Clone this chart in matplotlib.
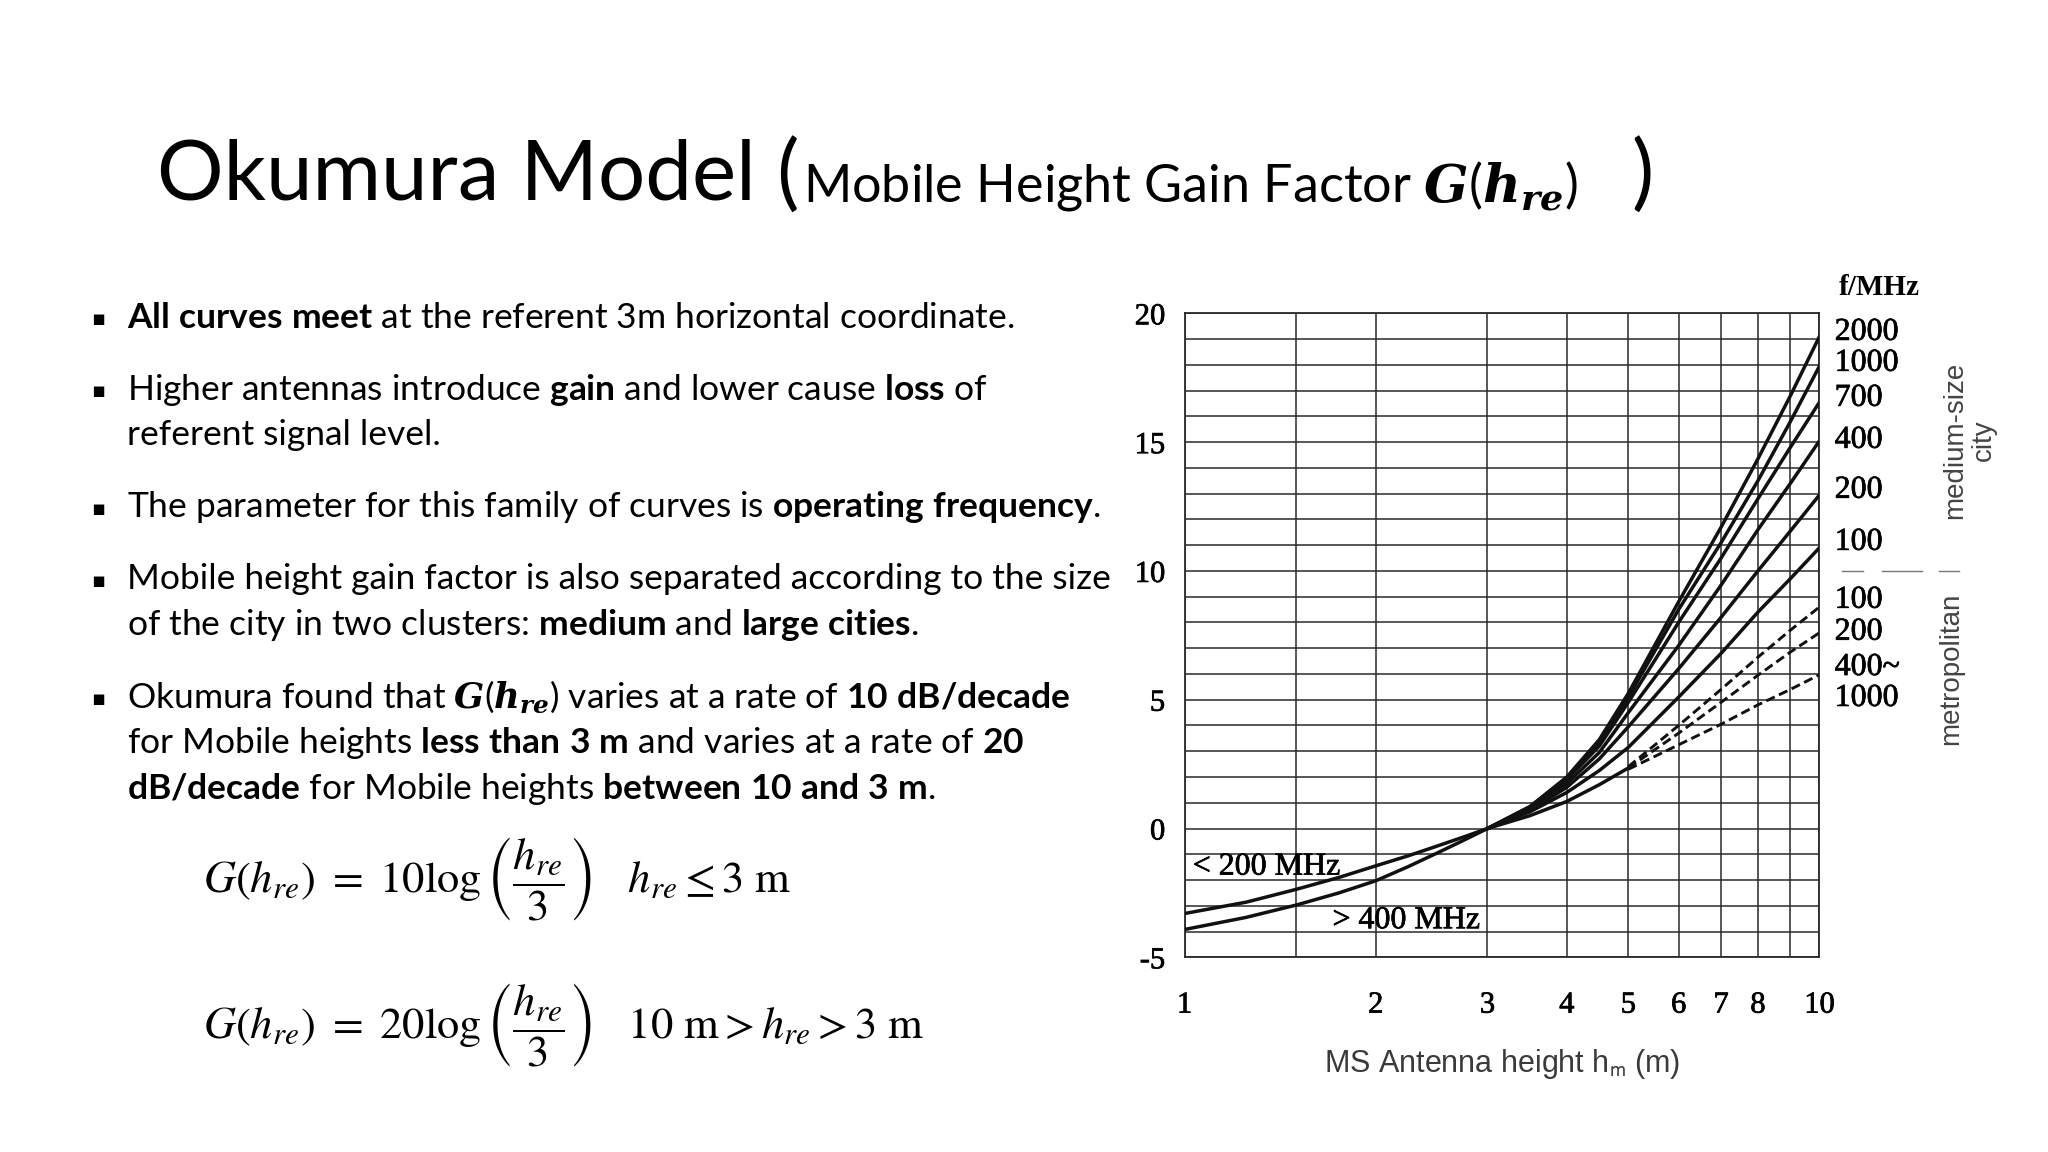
import numpy as np
import matplotlib
matplotlib.use("Agg")
import matplotlib.pyplot as plt
from matplotlib import transforms
import matplotlib.patheffects as pe

plt.rcParams["mathtext.fontset"] = "custom"
plt.rcParams["mathtext.rm"] = "Lato"
plt.rcParams["mathtext.bf"] = "Lato:bold"
plt.rcParams["mathtext.it"] = "Lato:italic"
plt.rcParams["mathtext.bfit"] = "DejaVu Serif:italic:bold"

# --- curves (gain in dB vs antenna height in m) ---
h_low = [1, 1.25, 1.5, 1.75, 2, 2.25, 2.5, 2.75, 3]
g_below200 = [-3.3, -2.86, -2.36, -1.9, -1.45, -1.06, -0.68, -0.33, 0]
g_above400 = [-3.92, -3.45, -2.97, -2.5, -2.03, -1.48, -0.95, -0.46, 0]

h_med = [3, 3.5, 4, 4.5, 5, 6, 7, 8, 9, 10]
g_med_2000 = [0, 0.85, 2.0, 3.45, 5.25, 8.8, 11.7, 14.35, 16.8, 19.1]
g_med_1000 = [0, 0.85, 1.95, 3.35, 5.1, 8.5, 11.1, 13.5, 15.8, 17.95]
g_med_700 = [0, 0.8, 1.9, 3.2, 4.9, 8.0, 10.5, 12.8, 14.8, 16.55]
g_med_400 = [0, 0.75, 1.75, 2.95, 4.5, 7.1, 9.45, 11.6, 13.4, 15.05]
g_med_200 = [0, 0.7, 1.6, 2.7, 3.95, 6.2, 8.2, 10.0, 11.55, 12.95]
g_med_100 = [0, 0.65, 1.4, 2.25, 3.15, 5.1, 6.8, 8.4, 9.7, 10.9]
med_labels = ["2000", "1000", "700", "400", "200", "100"]

h_metro_base = [3, 3.5, 4, 4.5, 5]
g_metro_base = [0, 0.5, 1.05, 1.7, 2.35]
h_metro = [5, 6, 7, 8, 9, 10]
g_metro_100 = [2.4, 4.0, 5.4, 6.65, 7.7, 8.6]
g_metro_200 = [2.35, 3.7, 4.9, 5.95, 6.85, 7.6]
g_metro_400 = [2.3, 3.25, 4.05, 4.8, 5.4, 5.97]
metro_labels = ["100", "200", "400~", "1000"]

x_ticks = [1, 2, 3, 4, 5, 6, 7, 8, 10]
x_grid = [1, 1.5, 2, 3, 4, 5, 6, 7, 8, 9, 10]
y_ticks = [-5, 0, 5, 10, 15, 20]

fig = plt.figure(figsize=(20.48, 11.52), dpi=100)
renderer = fig.canvas.get_renderer()
W = fig.get_figwidth() * fig.dpi

# --- title built from runs of different sizes ---
x = 0.0765
ty = 0.8255
t = fig.text(x, ty, "Okumura Model (", fontsize=60, family="Lato")
x += t.get_window_extent(renderer).width / W + 0.002
t = fig.text(x, ty, r"Mobile Height Gain Factor $\mathbfit{G}(\mathbfit{h}_{\mathbfit{re}})$",
             fontsize=37.5, family="Lato")
x += t.get_window_extent(renderer).width / W + 0.026
fig.text(x, ty, ")", fontsize=60, family="Lato")

# --- bullets ---
bullets = [
    (0.7155, [r"$\mathbf{All\ curves\ meet}$ at the referent 3m horizontal coordinate."]),
    (0.6530, [r"Higher antennas introduce $\mathbf{gain}$ and lower cause $\mathbf{loss}$ of",
              "referent signal level."]),
    (0.5510, [r"The parameter for this family of curves is $\mathbf{operating\ frequency}$."]),
    (0.4885, [r"Mobile height gain factor is also separated according to the size",
              r"of the city in two clusters: $\mathbf{medium}$ and $\mathbf{large\ cities}$."]),
    (0.3860, [r"Okumura found that $\mathbfit{G}(\mathbfit{h}_{\mathbfit{re}})$ varies at a rate of $\mathbf{10\ dB/decade}$",
              r"for Mobile heights $\mathbf{less\ than\ 3\ m}$ and varies at a rate of $\mathbf{20}$",
              r"$\mathbf{dB/decade}$ for Mobile heights $\mathbf{between\ 10\ and\ 3\ m}$."]),
]
line_step = 0.0397
for y0, lines in bullets:
    fig.text(0.0446, y0 + 0.002, "\u25aa", fontsize=15, family="DejaVu Sans", va="baseline")
    for i, line in enumerate(lines):
        fig.text(0.0619, y0 - i * line_step, line, fontsize=25.5, family="Lato", va="baseline")

# --- formulas ---
fig.text(0.0989, 0.237,
         r"$G(h_{re})\ =\ 10\log\left(\dfrac{h_{re}}{3}\right)\ \ \ h_{re} \leq 3\ \mathrm{m}$",
         fontsize=32, va="center", math_fontfamily="stix")
fig.text(0.0989, 0.110,
         r"$G(h_{re})\ =\ 20\log\left(\dfrac{h_{re}}{3}\right)\ \ \ 10\ \mathrm{m} > h_{re} > 3\ \mathrm{m}$",
         fontsize=32, va="center", math_fontfamily="stix")

# --- chart ---
ax = fig.add_axes([0.5784, 0.169, 0.31, 0.559])
ax.set_xscale("log")
ax.set_xlim(1, 10)
ax.set_ylim(-5, 20)

for gx in x_grid:
    ax.axvline(gx, color="#2a2a2a", lw=1.1, zorder=1)
for gy in range(-5, 21):
    ax.axhline(gy, color="#2a2a2a", lw=1.1, zorder=1)

line_kw = dict(color="#111111", lw=2.5, zorder=3, solid_capstyle="round", solid_joinstyle="round")
ax.plot(h_low, g_below200, **line_kw)
ax.plot(h_low, g_above400, **line_kw)
for g in [g_med_2000, g_med_1000, g_med_700, g_med_400, g_med_200, g_med_100]:
    ax.plot(h_med, g, **line_kw)
ax.plot(h_metro_base, g_metro_base, **line_kw)
for g in [g_metro_100, g_metro_200, g_metro_400]:
    ax.plot(h_metro, g, color="#111111", lw=2.1, ls=(0, (3.2, 1.6)), zorder=3)

thick = [pe.withStroke(linewidth=0.5, foreground="black")]

ax.xaxis.set_major_locator(matplotlib.ticker.FixedLocator(x_ticks))
ax.xaxis.set_minor_locator(matplotlib.ticker.NullLocator())
ax.set_xticklabels([str(v) for v in x_ticks])
ax.set_yticks(y_ticks)
ax.set_yticklabels([str(v) for v in y_ticks])
ax.tick_params(length=0, labelsize=22, labelcolor="#000000")
ax.tick_params(axis="x", pad=24)
ax.tick_params(axis="y", pad=14)
for lab in ax.get_xticklabels() + ax.get_yticklabels():
    lab.set_family("Liberation Serif")
    lab.set_path_effects(thick)
for sp in ax.spines.values():
    sp.set_color("#2a2a2a")
    sp.set_linewidth(1.3)

ax.set_xlabel(r"MS Antenna height h$_\mathrm{m}$ (m)", fontsize=22, family="Liberation Sans",
              color="#3a3a3a", labelpad=20, math_fontfamily="stixsans")

serif = dict(family="Liberation Serif", color="#000000", path_effects=thick)
ax.text(1.03, -1.5, "< 200 MHz", va="center", ha="left", fontsize=23, **serif)
ax.text(1.71, -3.58, "> 400 MHz", va="center", ha="left", fontsize=23, **serif)

trans = transforms.blended_transform_factory(ax.transAxes, ax.transData)
ax.text(1.031, 21.0, "f/MHz", transform=trans, va="center", ha="left",
        fontweight="bold", fontsize=21, family="Liberation Serif", color="#000000")
med_label_y = [19.26, 18.06, 16.70, 15.07, 13.13, 11.11]
metro_label_y = [8.86, 7.62, 6.25, 5.05]
for lab, yy in zip(med_labels, med_label_y):
    ax.text(1.024, yy, lab, transform=trans, va="center", ha="left", fontsize=23, **serif)
for lab, yy in zip(metro_labels, metro_label_y):
    ax.text(1.024, yy, lab, transform=trans, va="center", ha="left", fontsize=23, **serif)

sep_segments = [(1.036, 1.068), (1.098, 1.161), (1.189, 1.220)]
for x0, x1 in sep_segments:
    ax.plot([x0, x1], [10, 10], transform=trans, color="#777777", lw=1.0, clip_on=False)
ax.text(1.236, 15.07, "medium-size\ncity", transform=trans, rotation=90, va="center",
        ha="center", fontsize=20, family="Liberation Sans", color="#444444", linespacing=1.15)
ax.text(1.208, 6.21, "metropolitan", transform=trans, rotation=90, va="center",
        ha="center", fontsize=20, family="Liberation Sans", color="#444444")

fig.savefig("out.png", dpi=100, facecolor="white")
